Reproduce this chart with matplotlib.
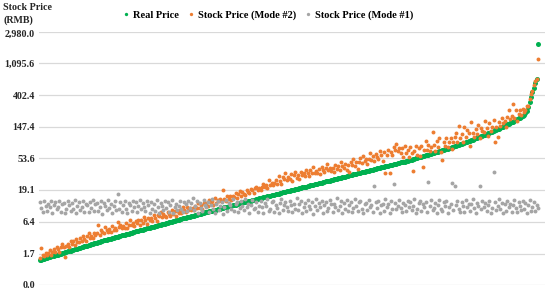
import numpy as np
import matplotlib
matplotlib.use('Agg')
import matplotlib.pyplot as plt
from matplotlib.lines import Line2D
from matplotlib.transforms import ScaledTranslation

real_price = [
    1.20, 1.23, 1.27, 1.29, 1.32, 1.36, 1.39, 1.41, 1.46, 1.48,
    1.52, 1.56, 1.59, 1.62, 1.66, 1.69, 1.73, 1.77, 1.80, 1.84,
    1.89, 1.92, 1.96, 2.00, 2.03, 2.08, 2.13, 2.16, 2.21, 2.25,
    2.30, 2.34, 2.39, 2.44, 2.47, 2.53, 2.58, 2.61, 2.67, 2.72,
    2.78, 2.82, 2.88, 2.94, 2.97, 3.03, 3.08, 3.14, 3.18, 3.22,
    3.28, 3.33, 3.39, 3.44, 3.50, 3.55, 3.59, 3.66, 3.71, 3.78,
    3.83, 3.90, 3.95, 4.00, 4.08, 4.16, 4.21, 4.26, 4.34, 4.42,
    4.47, 4.53, 4.61, 4.70, 4.75, 4.81, 4.90, 4.96, 5.05, 5.11,
    5.17, 5.26, 5.33, 5.42, 5.49, 5.55, 5.65, 5.72, 5.82, 5.89,
    5.96, 6.06, 6.14, 6.24, 6.32, 6.39, 6.50, 6.58, 6.69, 6.77,
    6.85, 6.96, 7.04, 7.17, 7.25, 7.33, 7.46, 7.54, 7.67, 7.76,
    7.89, 7.98, 8.07, 8.21, 8.30, 8.44, 8.53, 8.63, 8.78, 8.88,
    8.97, 9.07, 9.23, 9.33, 9.43, 9.59, 9.70, 9.80, 9.91, 10.08,
    10.19, 10.30, 10.47, 10.59, 10.70, 10.82, 11.00, 11.12, 11.24, 11.43,
    11.55, 11.68, 11.81, 12.00, 12.13, 12.26, 12.46, 12.60, 12.74, 12.87,
    13.08, 13.23, 13.37, 13.59, 13.73, 13.88, 14.03, 14.26, 14.41, 14.57,
    14.72, 14.96, 15.12, 15.28, 15.44, 15.69, 15.86, 16.03, 16.20, 16.37,
    16.64, 16.81, 16.99, 17.17, 17.36, 17.63, 17.82, 18.01, 18.20, 18.49,
    18.69, 18.89, 19.09, 19.29, 19.59, 19.80, 20.01, 20.22, 20.54, 20.76,
    20.98, 21.20, 21.42, 21.76, 21.99, 22.22, 22.45, 22.81, 23.05, 23.29,
    23.53, 23.78, 24.15, 24.41, 24.66, 24.92, 25.31, 25.58, 25.84, 26.11,
    26.52, 26.80, 27.08, 27.36, 27.64, 28.08, 28.37, 28.67, 28.96, 29.27,
    29.72, 30.03, 30.34, 30.82, 31.14, 31.46, 31.79, 32.12, 32.62, 32.95,
    33.29, 33.64, 34.16, 34.52, 34.87, 35.23, 35.60, 36.15, 36.52, 36.90,
    37.28, 37.67, 38.25, 38.65, 39.04, 39.45, 40.06, 40.47, 40.89, 41.31,
    41.95, 42.38, 42.82, 43.26, 43.70, 44.38, 44.83, 45.29, 45.76, 46.47,
    46.94, 47.42, 47.91, 48.40, 49.14, 49.65, 50.16, 50.67, 51.46, 52.25,
    53.05, 53.60, 54.42, 55.26, 55.83, 56.69, 57.56, 58.15, 59.04, 59.95,
    60.56, 61.50, 62.43, 63.07, 64.04, 65.02, 65.69, 66.70, 67.72, 68.41,
    69.46, 70.52, 71.24, 72.33, 73.44, 74.57, 75.71, 76.88, 78.04, 79.64,
    80.86, 82.10, 83.35, 84.63, 85.93, 87.23, 89.02, 90.38, 91.76, 93.16,
    94.58, 96.51, 97.99, 99.5, 101.5, 103.1, 104.6, 106.8, 109.0, 110.6,
    112.9, 114.6, 116.9, 119.3, 121.7, 123.6, 126.1, 128.0, 130.6, 133.3,
    136.0, 138.8, 141.6, 145.2, 148.2, 151.2, 154.3, 158.2, 161.4, 164.7,
    168.9, 173.1, 178.5, 183.0, 187.7, 192.4, 197.3, 203.4, 208.6, 213.9,
    224.9, 243.7, 274.9, 322.8, 382.8, 436.1, 501.7, 589.0, 664.1, 1997.0,
]

mode2_price = [
    1.31, 2.17, 1.57, 1.47, 1.78, 1.61, 1.77, 2.01, 1.61, 1.85,
    2.07, 1.83, 2.32, 2.07, 1.87, 2.36, 2.69, 2.32, 1.41, 2.46,
    2.70, 2.30, 3.00, 2.66, 3.00, 2.57, 3.32, 2.95, 2.85, 3.39,
    3.03, 3.74, 3.34, 2.99, 3.68, 4.15, 3.48, 3.77, 3.40, 4.17,
    3.84, 4.16, 5.71, 3.81, 4.64, 4.32, 4.10, 5.17, 4.64, 4.40,
    4.91, 4.28, 5.41, 4.77, 5.08, 4.69, 6.21, 5.15, 5.69, 5.07,
    5.52, 5.13, 6.03, 5.00, 5.71, 6.69, 5.67, 6.10, 5.51, 6.53,
    6.00, 6.85, 5.73, 6.70, 6.19, 7.48, 6.73, 5.91, 7.35, 6.76,
    7.33, 6.65, 8.05, 7.22, 6.53, 8.04, 7.78, 9.01, 7.53, 8.30,
    7.91, 7.47, 8.92, 8.56, 7.93, 9.57, 8.53, 9.23, 7.92, 9.26,
    8.81, 9.75, 8.81, 10.60, 9.73, 9.00, 10.67, 9.85, 10.44, 9.69,
    10.38, 9.78, 11.24, 10.51, 12.21, 10.52, 11.50, 10.17, 12.20, 11.55,
    12.16, 11.29, 13.53, 12.22, 13.08, 11.71, 14.62, 12.50, 13.73, 13.40,
    14.11, 13.13, 18.84, 14.30, 13.27, 15.78, 14.36, 15.73, 13.69, 15.78,
    15.32, 17.01, 14.63, 16.55, 18.56, 15.84, 17.71, 16.95, 16.18, 18.83,
    18.01, 17.21, 19.98, 19.13, 17.41, 20.13, 21.39, 19.14, 20.42, 18.93,
    21.32, 23.26, 20.76, 22.77, 20.70, 26.54, 22.44, 24.37, 22.22, 23.84,
    26.69, 23.58, 30.12, 25.53, 23.24, 29.74, 27.04, 33.60, 26.26, 29.60,
    27.75, 31.82, 26.12, 30.86, 34.62, 28.54, 30.94, 27.01, 34.54, 31.42,
    33.51, 29.86, 36.67, 32.91, 30.04, 36.62, 33.24, 40.19, 33.15, 35.92,
    33.83, 37.90, 32.20, 40.93, 36.46, 33.99, 38.99, 44.98, 36.31, 39.39,
    36.15, 39.59, 34.10, 43.53, 38.52, 42.33, 36.59, 47.96, 41.54, 38.96,
    44.77, 36.86, 43.50, 34.16, 47.85, 42.82, 52.12, 41.39, 48.09, 38.38,
    47.69, 53.38, 45.41, 57.61, 48.50, 52.98, 44.75, 53.24, 63.91, 50.17,
    57.19, 48.50, 62.59, 55.30, 53.05, 66.96, 58.95, 49.59, 64.77, 33.69,
    59.99, 70.58, 33.18, 64.95, 59.35, 77.51, 70.95, 85.10, 67.27, 75.90,
    63.72, 75.02, 55.74, 80.51, 63.18, 70.92, 55.53, 75.99, 63.00, 35.74,
    68.18, 80.35, 60.24, 74.95, 58.67, 80.92, 40.28, 71.16, 93.26, 69.70,
    82.11, 68.06, 76.38, 125.2, 82.25, 68.32, 93.70, 77.53, 101.4, 64.94,
    51.14, 90.55, 78.83, 103.1, 77.16, 91.20, 102.6, 72.99, 90.69, 105.4,
    120.97, 90.83, 152.5, 103.5, 116.4, 91.64, 147.5, 105.0, 130.7, 119.5,
    78.81, 173.5, 119.8, 104.5, 137.4, 116.6, 156.3, 101.4, 139.8, 128.5,
    124.9, 178.2, 142.8, 107.9, 164.6, 129.8, 146.4, 182.2, 89.1, 147.4,
    104.5, 169.6, 148.7, 196.4, 163.9, 175.6, 146.5, 202.8, 254.0, 186.2,
    206.3, 307.2, 197.3, 247.4, 178.3, 223.3, 252.8, 213.6, 254.7, 236.5,
    248.6, 282.9, 288.7, 356.8, 413.5, 458.0, 554.5, 618.5, 677.4, 1248.0,
]

mode1_price = [
    12.6, 10.4, 8.9, 13.1, 11.2, 9.5, 12.0, 10.8, 13.4, 8.7, 11.6, 12.9, 9.9, 10.6, 13.2, 9.1, 11.9, 12.4, 8.8, 10.2,
    13.0, 11.4, 9.3, 12.2, 10.0, 13.5, 8.6, 11.1, 12.7, 9.7, 10.9, 13.3, 9.0, 12.1, 11.5, 8.9, 12.8, 10.3, 13.6, 9.4,
    11.8, 12.5, 9.2, 10.7, 13.1, 8.5, 12.3, 11.0, 9.8, 13.7, 10.5, 12.0, 8.8, 11.3, 13.0, 9.6, 16.6, 10.1, 12.6, 9.0,
    11.7, 13.4, 10.2, 8.7, 12.2, 11.4, 9.5, 13.0, 10.6, 12.8, 8.9, 11.1, 13.5, 9.9, 12.4, 10.8, 9.2, 13.2, 11.6, 8.6,
    12.9, 10.0, 11.9, 9.4, 13.6, 10.7, 8.8, 12.3, 11.2, 9.7, 13.1, 10.4, 12.6, 9.1, 11.5, 13.8, 8.7, 10.9, 12.1, 9.6,
    11.3, 13.3, 10.1, 8.9, 12.7, 11.8, 9.3, 13.0, 10.5, 12.2, 14.5, 9.8, 11.0, 13.4, 8.6, 12.5, 10.3, 9.5, 13.7, 11.7,
    10.6, 12.8, 9.0, 11.4, 14.2, 10.2, 8.8, 12.0, 13.1, 9.7, 11.1, 12.6, 8.5, 10.8, 13.5, 9.4, 12.3, 11.5, 10.0, 13.9,
    9.2, 11.9, 12.7, 8.9, 10.5, 13.2, 11.3, 9.6, 14.0, 10.9, 12.1, 8.7, 11.6, 13.6, 9.9, 10.4, 12.9, 9.1, 11.2, 13.3,
    10.7, 8.6, 12.4, 11.0, 14.3, 9.5, 10.1, 12.8, 13.4, 9.0, 11.7, 10.3, 8.8, 12.2, 13.9, 9.8, 11.4, 12.6, 10.6, 9.3,
    13.1, 11.5, 8.9, 12.0, 10.2, 14.6, 9.7, 11.8, 13.0, 8.7, 10.9, 12.5, 9.4, 13.7, 11.1, 10.0, 12.9, 8.5, 11.3, 14.1,
    9.6, 12.3, 10.8, 13.3, 8.8, 11.6, 12.7, 9.2, 10.4, 13.8, 11.9, 9.0, 12.1, 10.6, 14.4, 9.8, 11.2, 13.0, 8.6, 12.4,
    10.1, 13.5, 9.4, 11.7, 12.8, 8.9, 10.5, 14.2, 11.0, 9.3, 12.6, 13.1, 10.2, 8.7, 11.8, 12.2, 9.7, 13.6, 10.9, 11.4,
    9.1, 21.7, 12.9, 10.3, 13.4, 8.8, 11.5, 12.0, 9.5, 14.0, 10.7, 11.9, 8.6, 13.2, 10.0, 23.6, 12.5, 9.9, 11.1, 13.7,
    10.4, 8.9, 12.3, 11.6, 9.2, 13.0, 10.8, 12.7, 9.6, 11.3, 14.1, 8.7, 10.1, 12.4, 13.3, 9.4, 11.8, 10.6, 12.9, 9.0,
    24.8, 11.0, 13.5, 9.7, 10.5, 12.2, 8.8, 11.5, 13.8, 10.2, 9.3, 12.6, 11.2, 13.1, 8.6, 10.9, 12.0, 24.0, 9.8, 21.6,
    11.7, 13.4, 10.0, 9.1, 12.8, 11.3, 8.9, 13.6, 10.6, 12.1, 9.5, 11.9, 14.3, 10.3, 8.7, 12.5, 11.1, 21.6, 9.9, 13.0,
    10.8, 12.4, 9.2, 11.5, 13.2, 8.8, 10.4, 34.0, 12.7, 9.6, 11.0, 13.9, 10.1, 12.3, 8.6, 11.8, 9.4, 13.3, 10.7, 12.0,
    9.0, 11.6, 13.7, 10.5, 8.9, 12.6, 11.2, 9.7, 13.1, 10.0, 12.2, 8.7, 11.4, 13.5, 9.3, 10.9, 12.8, 9.5, 11.7, 10.3,
]

y_ticks = [0.0, 1.7, 6.4, 19.1, 53.6, 147.4, 402.4, 1095.6, 2980.0]
series_names = ['Real Price', 'Stock Price (Mode #2)', 'Stock Price (Mode #1)']
series_colors = ['#00B050', '#ED7D31', '#A5A5A5']

W, H = 548, 293
fig = plt.figure(figsize=(W / 100, H / 100), dpi=100)
ax = fig.add_axes([39 / W, 8 / H, 506 / W, 253.3 / H])

idx = np.arange(len(real_price))
ax.set_yscale('function', functions=(np.log1p, np.expm1))

ax.scatter(idx, real_price, s=13, color=series_colors[0], linewidths=0, zorder=3, clip_on=False)
ax.scatter(idx, mode2_price, s=8, color=series_colors[1], linewidths=0, zorder=4, clip_on=False)
ax.scatter(idx, mode1_price, s=8, color=series_colors[2], linewidths=0, zorder=5, clip_on=False)

ax.set_ylim(0, 2980.0)
ax.set_xlim(-0.72, 364.1)
ax.set_yticks(y_ticks)
ax.set_yticklabels([f'{v:,.1f}' for v in y_ticks])
ax.set_xticks([])
ax.yaxis.set_minor_locator(matplotlib.ticker.NullLocator())
ax.tick_params(axis='y', length=0, pad=3)
for lab in ax.get_yticklabels():
    lab.set_fontfamily('Liberation Serif')
    lab.set_fontweight('bold')
    lab.set_fontsize(7.2)
    lab.set_color('#262626')
top_lab = ax.get_yticklabels()[-1]
top_lab.set_transform(top_lab.get_transform() + ScaledTranslation(0, -2 / 100, fig.dpi_scale_trans))

ax.grid(axis='y', color='#D9D9D9', linewidth=0.9)
ax.set_axisbelow(True)
for s in ax.spines.values():
    s.set_visible(False)

fig.text(3 / W, 1 - 3.5 / H, 'Stock Price\n(RMB)', ha='left', va='top',
         fontfamily='Liberation Serif', fontweight='bold', fontsize=7.2,
         color='#262626', linespacing=1.35)

handles = [Line2D([], [], marker='o', linestyle='none', markersize=2.4,
                  markerfacecolor=c, markeredgewidth=0) for c in series_colors]
fig.legend(handles, series_names, loc='center', bbox_to_anchor=(268 / W, 1 - 15 / H),
           ncol=3, frameon=False, handlelength=0.6, handletextpad=0.4,
           columnspacing=0.8, borderpad=0,
           prop={'family': 'Liberation Serif', 'weight': 'bold', 'size': 7.5})

fig.savefig('out.png', dpi=100)
